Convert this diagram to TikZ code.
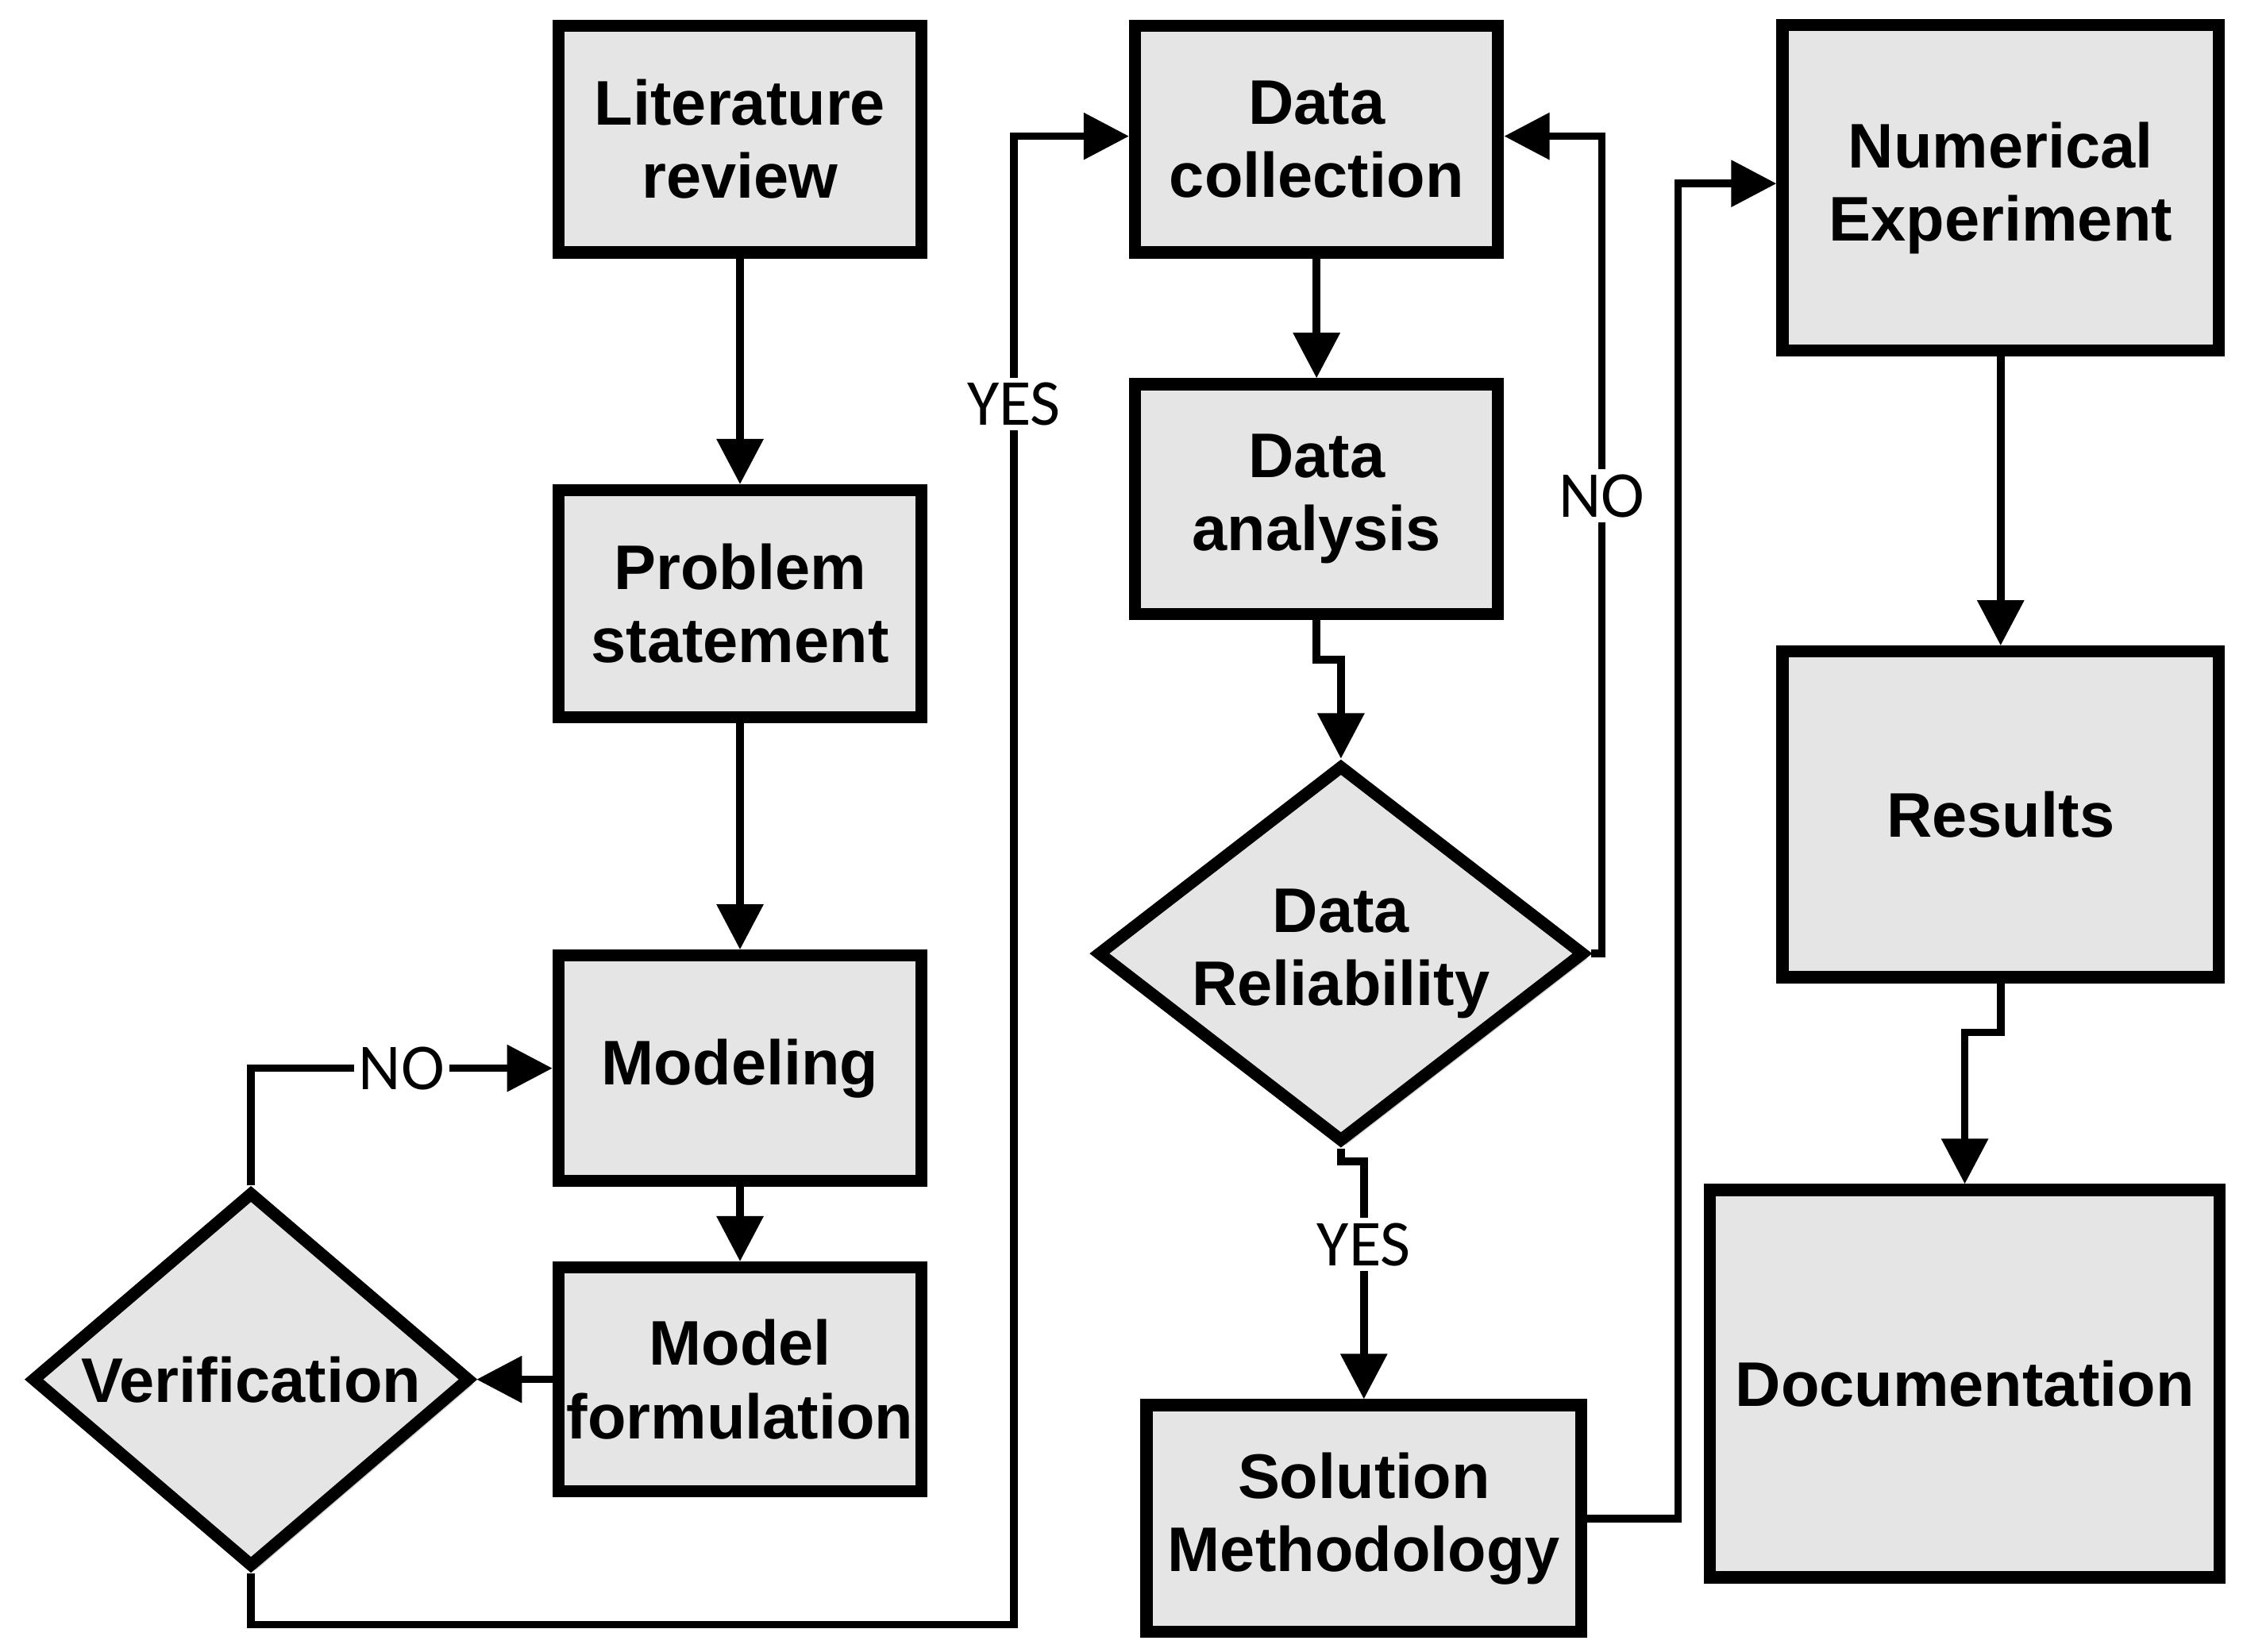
\documentclass[tikz,border=0pt]{standalone}
\usepackage{fontspec}
\setmainfont{Liberation Sans}
\newfontfamily\lblfont{Carlito}
\usetikzlibrary{shapes.geometric,arrows.meta,shadows}
\begin{document}
\begin{tikzpicture}[x=0.01cm,y=-0.01cm,
  box/.style={draw=black, line width=2.4pt, fill=black!10, align=center,
    font=\fontsize{12.5}{14.5}\selectfont\bfseries, inner sep=0pt,
    drop shadow={shadow xshift=1pt,shadow yshift=-1pt,opacity=.4}},
  dia/.style={box, shape=diamond, aspect=1.2},
  arr/.style={line width=1.5pt, -{Triangle[length=9pt,width=9pt]}},
  ln/.style={line width=1.5pt},
  lbl/.style={font=\lblfont\fontsize{13}{15}\selectfont, fill=white, inner sep=1pt}]
\useasboundingbox (0,0) rectangle (1564,1152);
% boxes
\node[box, minimum width=2.53cm, minimum height=1.58cm] (lit) at (516,97) {Literature\\review};
\node[box, minimum width=2.53cm, minimum height=1.58cm] (prob) at (516,421) {Problem\\statement};
\node[box, minimum width=2.53cm, minimum height=1.57cm] (mod) at (516,745) {Modeling};
\node[box, minimum width=2.53cm, minimum height=1.56cm] (form) at (516,962) {Model\\formulation};
\node[dia, minimum width=3.06cm, minimum height=2.62cm] (ver) at (175,962) {Verification};
\node[box, minimum width=2.53cm, minimum height=1.58cm] (coll) at (918,97) {Data\\collection};
\node[box, minimum width=2.53cm, minimum height=1.60cm] (anal) at (918,348) {Data\\analysis};
\node[dia, minimum width=3.40cm, minimum height=2.15cm] (rel) at (935,665) {Data\\Reliability};
\node[box, minimum width=3.03cm, minimum height=1.58cm] (sol) at (951,1059) {Solution\\Methodology};
\node[box, minimum width=3.04cm, minimum height=2.27cm] (num) at (1395,131) {Numerical\\Experiment};
\node[box, minimum width=3.04cm, minimum height=2.27cm] (res) at (1395,568) {Results};
\node[box, minimum width=3.55cm, minimum height=2.70cm] (doc) at (1370,965) {Documentation};
% helper points
\coordinate (v1) at (175,745);
\coordinate (v2) at (175,1133);
\coordinate (v3) at (707,1133);
\coordinate (v4) at (707,95);
\coordinate (a1) at (918,460);
\coordinate (a2) at (935,460);
\coordinate (r1) at (1117,665);
\coordinate (r2) at (1117,95);
\coordinate (r3) at (935,810);
\coordinate (r4) at (951,810);
\coordinate (s1) at (1170,1059);
\coordinate (s2) at (1170,128);
\coordinate (e1) at (1395,720);
\coordinate (e2) at (1370,720);
% connectors
\draw[arr] (lit) -- (prob);
\draw[arr] (prob) -- (mod);
\draw[arr] (mod) -- (form);
\draw[arr] (form) -- (ver);
\draw[arr] (ver.north) -- (v1) -- node[lbl]{NO} (mod.west);
\draw[arr] (ver.south) -- (v2) -- (v3) -- node[lbl, pos=0.82]{YES} (v4) -- (coll.west |- v4);
\draw[arr] (coll) -- (anal);
\draw[arr] (anal.south) -- (a1) -- (a2) -- (rel.north);
\draw[arr] (rel.east) -- (r1) -- node[lbl, pos=0.56]{NO} (r2) -- (coll.east |- r2);
\draw[arr] (rel.south) -- (r3) -- (r4) -- node[lbl, pos=0.35]{YES} (sol.north);
\draw[arr] (sol.east) -- (s1) -- (s2) -- (num.west |- s2);
\draw[arr] (num) -- (res);
\draw[arr] (res.south) -- (e1) -- (e2) -- (doc.north);
\end{tikzpicture}
\end{document}
